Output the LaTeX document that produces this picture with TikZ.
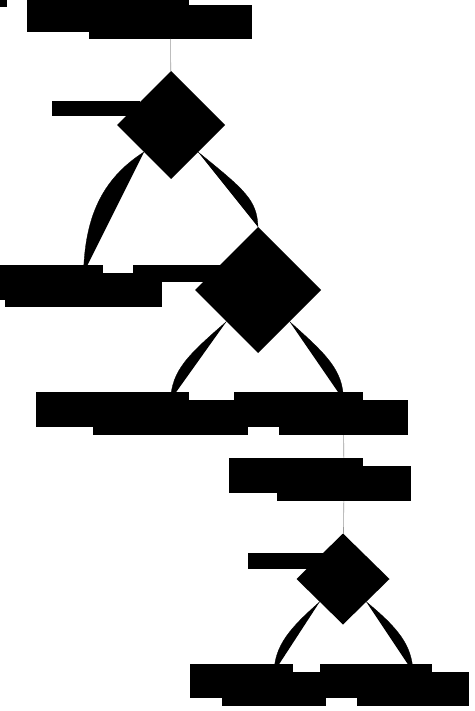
\documentclass[tikz,border=0pt]{standalone}
\usepackage{tikz}
\usetikzlibrary{shapes.geometric}
\tikzset{
  box/.style={rectangle, fill=black, inner sep=0pt, outer sep=0pt},
  choice/.style={diamond, fill=black, inner sep=0pt, outer sep=0pt},
  link/.style={line width=0.6pt, color=black!40},
  curvefill/.style={fill=black, draw=black, line width=0.3pt}
}
\begin{document}
\begin{tikzpicture}[x=1pt, y=-1pt]
		%%%%% START %%%%%
		\useasboundingbox (0, 0) rectangle (474, 711);
		
		\fill (0, 0) rectangle (7, 7);
		
		\node[box, minimum width=163pt, minimum height=34pt] (entry) at (170.5, 22) {};
		\fill (27, 0) rectangle (189, 32);
		
		\node[choice, minimum width=108pt, minimum height=108pt] (check1) at (171, 125) {};
		\fill (52, 101) rectangle (140, 116);
		\draw[link] (entry) -- (check1);
		
		\node[box, minimum width=157pt, minimum height=34pt] (yes1) at (83.5, 290) {};
		\fill (0, 265) rectangle (103, 300);
		
		\node[choice, minimum width=126pt, minimum height=126pt] (check2) at (258, 290) {};
		\fill (133, 265) rectangle (233, 282);
		
		\filldraw[curvefill] (check1.south west) .. controls (100, 180) and (85, 220) .. (yes1.north);
		\filldraw[curvefill] (check1.south east) .. controls (245, 190) and (257, 200) .. (check2.north);
		
		\node[box, minimum width=155pt, minimum height=35pt] (yes2) at (170.5, 417.5) {};
		\fill (36, 392) rectangle (189, 427);
		\node[box, minimum width=129pt, minimum height=35pt] (no2) at (343.5, 417.5) {};
		\fill (234, 392) rectangle (363, 427);
		
		\filldraw[curvefill] (check2.south west) .. controls (188, 355) and (172, 370) .. (yes2.north);
		\filldraw[curvefill] (check2.south east) .. controls (327, 355) and (343, 370) .. (no2.north);
		
		\node[box, minimum width=134pt, minimum height=35pt] (step3) at (344, 483.5) {};
		\draw[link] (no2) -- (step3);
		\fill (229, 458) rectangle (363, 493);
		
		\node[choice, minimum width=93pt, minimum height=91pt] (check3) at (343, 579) {};
		\fill (248, 553) rectangle (323, 569);
		\draw[link] (step3) -- (check3);
		
		\node[box, minimum width=104pt, minimum height=34pt] (yes3) at (274, 689) {};
		\fill (190, 664) rectangle (293, 698);
		\node[box, minimum width=112pt, minimum height=34pt] (no3) at (413, 689) {};
		\fill (320, 664) rectangle (432, 698);
		
		\filldraw[curvefill] (check3.south west) .. controls (290, 628) and (275, 645) .. (yes3.north);
		\filldraw[curvefill] (check3.south east) .. controls (398, 628) and (412, 645) .. (no3.north);
		%%%%% END %%%%%
\end{tikzpicture}
\end{document}
